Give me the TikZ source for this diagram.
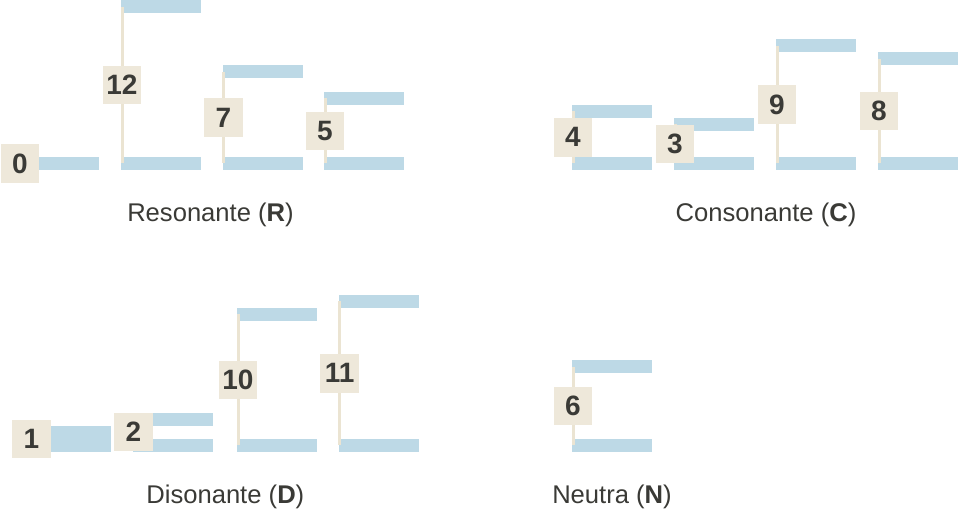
\documentclass[tikz,border=0pt]{standalone}
\usepackage{fontspec}
\setmainfont{Liberation Sans}
\definecolor{barra}{HTML}{BDD9E6}
\definecolor{caja}{HTML}{EEE8DA}
\definecolor{linea}{HTML}{EBE4D2}
\definecolor{texto}{HTML}{3A3A36}

\begin{document}
\begin{tikzpicture}[x=1pt, y=-1pt,
	barra/.style = {fill=barra, minimum width=80pt, minimum height=13.08pt, inner sep=0pt, anchor=west},
	caja/.style = {fill=caja, minimum size=38.5pt, inner sep=0pt, text=texto, font=\fontsize{28}{28}\selectfont\bfseries},
	nombre/.style = {text=texto, font=\fontsize{25.6}{30}\selectfont, anchor=base}]
	\useasboundingbox (0,0) rectangle (958,510);
	% intervalo / x / linea de base
	\foreach \n/\x/\y in {0/19/163.5, 12/121/163.5, 7/222.5/163.5, 5/324/163.5,
		4/572/163.5, 3/674/163.5, 9/776/163.5, 8/878/163.5,
		1/30.5/445.3, 2/132.5/445.3, 10/237/445.3, 11/338.7/445.3,
		6/572/445.3} {
		\node[barra] (b\n) at (\x,\y) {};
		\node[barra] (t\n) at (\x,\y-13.08*\n) {};
		\draw[linea, line width=3pt] ([xshift=1pt]t\n.west) -- ([xshift=1pt]b\n.west)
			node[caja, midway] (c\n) {\n};
	}
	\node[nombre] (R) at (210.5,222) {Resonante (\textbf{R})};
	\node[nombre] (C) at (766,222) {Consonante (\textbf{C})};
	\node[nombre] (D) at (225.3,503.3) {Disonante (\textbf{D})};
	\node[nombre] (N) at (612,503.3) {Neutra (\textbf{N})};
\end{tikzpicture}
\end{document}
